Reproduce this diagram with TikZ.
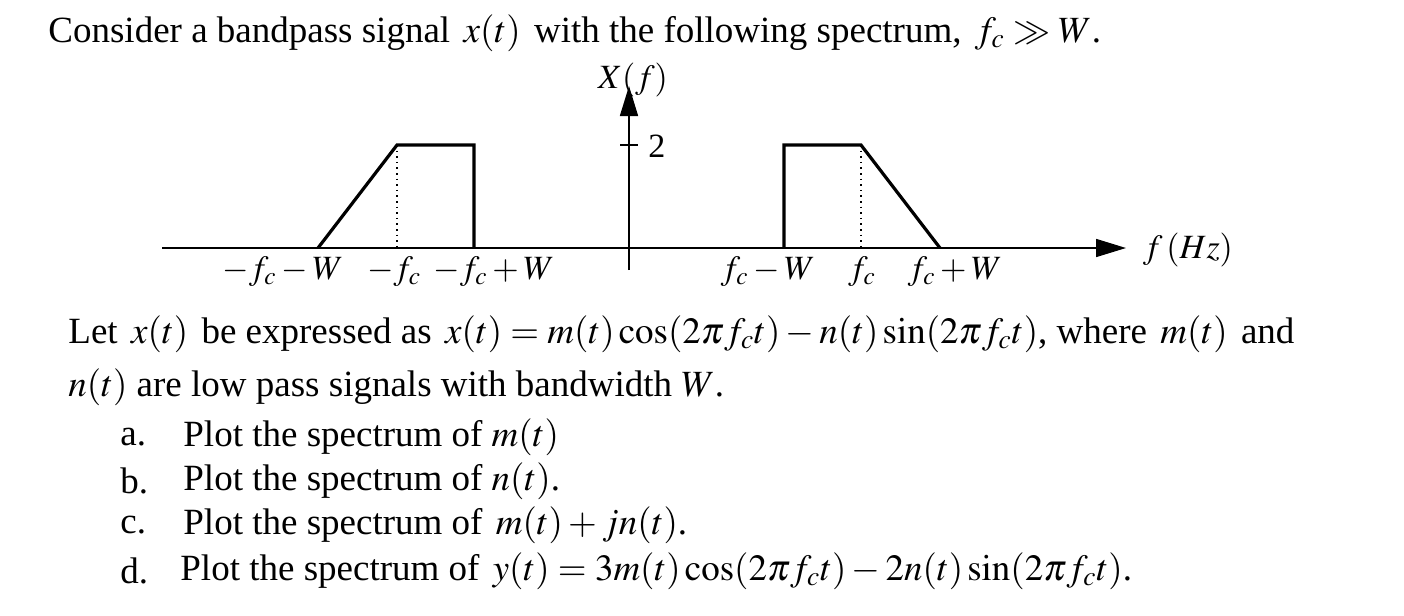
\documentclass[tikz,border=0pt]{standalone}
\usepackage{mathptmx}
\usepackage{amssymb}
\usepackage{fontspec}
\setmainfont{Liberation Serif}
\usetikzlibrary{arrows.meta}
\begin{document}
\begin{tikzpicture}[x=0.5pt,y=-0.5pt,
  txt/.style={anchor=west,inner sep=0pt,font=\fontsize{18.5}{22}\selectfont},
  lab/.style={inner sep=0pt,font=\fontsize{17}{20}\selectfont},
  trap/.style={line width=1.6pt},
  axis/.style={line width=0.8pt}]
\useasboundingbox (0,0) rectangle (1404,616);
\node[txt] (t1) at (48,33) {Consider a bandpass signal $\,x(t)\,$ with the following spectrum, $\,f_c \gg W$.};
\coordinate (hl) at (162,248); \coordinate (hr) at (1126,248);
\coordinate (vb) at (629,270); \coordinate (vt) at (629,86);
\draw[axis,-{Triangle[length=15pt,width=9pt]}] (hl) -- (hr);
\draw[axis,-{Triangle[length=15pt,width=9pt]}] (vb) -- (vt);
\draw[axis] (620,145) -- (638,145);
\node[lab,anchor=west] (two) at (648,146) {2};
\node[lab] (Xf) at (633,80) {$X(f)$};
\draw[trap] (318,248) -- (397,145) -- (474,145) -- (474,248);
\draw[trap] (784,248) -- (784,145) -- (861,145) -- (940,248);
\draw[dotted,line width=0.8pt] (397,145) -- (397,248);
\draw[dotted,line width=0.8pt] (861,145) -- (861,248);
\node[lab] (l1) at (283,272) {$-f_c-W$};
\node[lab] (l2) at (394,272) {$-f_c$};
\node[lab] (l3) at (494,272) {$-f_c+W$};
\node[lab] (l4) at (768,272) {$f_c-W$};
\node[lab] (l5) at (862,272) {$f_c$};
\node[lab] (l6) at (955,272) {$f_c+W$};
\node[lab] (fhz) at (1188,250) {$f\,(Hz)$};
\node[txt] (t2) at (68,334) {Let $\,x(t)\,$ be expressed as $\,x(t)=m(t)\cos(2\pi f_ct)-n(t)\sin(2\pi f_ct)$, where $\,m(t)\,$ and};
\node[txt] (t3) at (68,387) {$n(t)$ are low pass signals with bandwidth $W$.};
\node[txt] (a) at (120,437) {a.};
\node[txt] (ta) at (183,437) {Plot the spectrum of $m(t)$};
\node[txt] (b) at (120,481) {b.};
\node[txt] (tb) at (183,481) {Plot the spectrum of $n(t)$.};
\node[txt] (c) at (120,525) {c.};
\node[txt] (tc) at (183,525) {Plot the spectrum of $\,m(t)+jn(t)$.};
\node[txt] (d) at (120,571) {d.};
\node[txt] (td) at (180,571) {Plot the spectrum of $\,y(t)=3m(t)\cos(2\pi f_ct)-2n(t)\sin(2\pi f_ct)$.};
\end{tikzpicture}
\end{document}
